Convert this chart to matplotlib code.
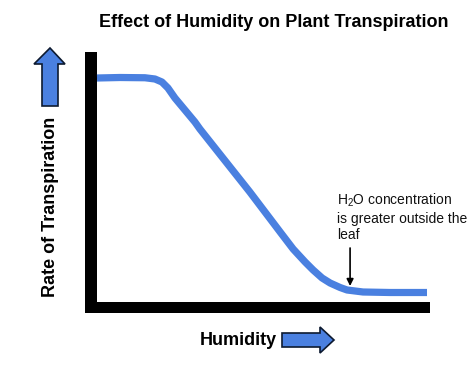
import matplotlib
matplotlib.use("Agg")
import matplotlib.pyplot as plt
from matplotlib.patches import Polygon, Rectangle

plt.rcParams['font.family'] = ['Liberation Sans', 'DejaVu Sans']
plt.rcParams['mathtext.fontset'] = 'custom'
plt.rcParams['mathtext.rm'] = 'Liberation Sans'
plt.rcParams['mathtext.it'] = 'Liberation Sans:italic'
plt.rcParams['mathtext.bf'] = 'Liberation Sans:bold'

# Data (humidity 0-100, rate of transpiration 0-100)
humidity = [0, 6.9, 14.4, 17.4, 19.5, 21.3, 23.4, 29.4, 30.9, 45.9, 55.0,
            58.9, 62.5, 64.9, 67.6, 70.0, 73.0, 75.1, 79.9, 88.0, 99.1]
rate = [89.6, 89.8, 89.7, 89.2, 88.0, 85.6, 81.6, 72.0, 69.2, 44.0, 28.0,
        21.2, 16.0, 12.8, 9.6, 7.6, 5.8, 4.8, 4.0, 3.8, 3.8]
title = "Effect of Humidity on Plant Transpiration"
xlabel = "Humidity"
ylabel = "Rate of Transpiration"
note = "H$_2$O concentration\nis greater outside the\nleaf"
note_x, note_arrow_top, note_arrow_bottom = 76, 21.6, 6.4

W, H = 474, 372
BLUE = '#4a80e0'
EDGE = '#0d1a30'

fig = plt.figure(figsize=(W / 100, H / 100), dpi=100)

# overlay for decorations in pixel coords
ov = fig.add_axes([0, 0, 1, 1])
ov.set_xlim(0, W)
ov.set_ylim(H, 0)
ov.axis('off')

# main data axes: x 0..100 -> px 97..430 ; y 0..100 -> px 302..52
L, R, T, B = 97, 430, 52, 302
ax = fig.add_axes([L / W, (H - B) / H, (R - L) / W, (B - T) / H])
ax.set_xlim(0, 100)
ax.set_ylim(0, 100)
ax.axis('off')

# thick black axes bars
ov.add_patch(Rectangle((85, 52), 12, 261, color='black', lw=0))
ov.add_patch(Rectangle((85, 302), 345, 11, color='black', lw=0))

ax.plot(humidity, rate, color=BLUE, lw=5.2, solid_capstyle='butt',
        solid_joinstyle='round', clip_on=False)

# annotation
ax.annotate('', xy=(note_x, note_arrow_bottom), xytext=(note_x, note_arrow_top),
            arrowprops=dict(arrowstyle='-|>', color='black', lw=1.2,
                            mutation_scale=10, shrinkA=0, shrinkB=0))
ax.text(72, 44.2, note, fontsize=10, ha='left', va='top',
        linespacing=1.25, color='#111111')

fig.text(273.5 / W, 1 - 27 / H, title, fontsize=13, fontweight='bold',
         ha='center', va='baseline')
fig.text(200 / W, 1 - 345 / H, xlabel, fontsize=13, fontweight='bold',
         ha='left', va='baseline')
fig.text(55 / W, 1 - 206.5 / H, ylabel, fontsize=13, fontweight='bold',
         rotation=90, ha='center', va='baseline', rotation_mode='anchor')

# up arrow
up = [(42, 106), (42, 64), (34, 64), (50, 48), (65, 64), (58, 64), (58, 106)]
ov.add_patch(Polygon(up, closed=True, fc=BLUE, ec=EDGE, lw=1.2))
# right arrow
rt = [(282, 333), (320, 333), (320, 327), (334, 340), (320, 353), (320, 347), (282, 347)]
ov.add_patch(Polygon(rt, closed=True, fc=BLUE, ec=EDGE, lw=1.2))

fig.savefig('out.png', dpi=100, facecolor='white')
